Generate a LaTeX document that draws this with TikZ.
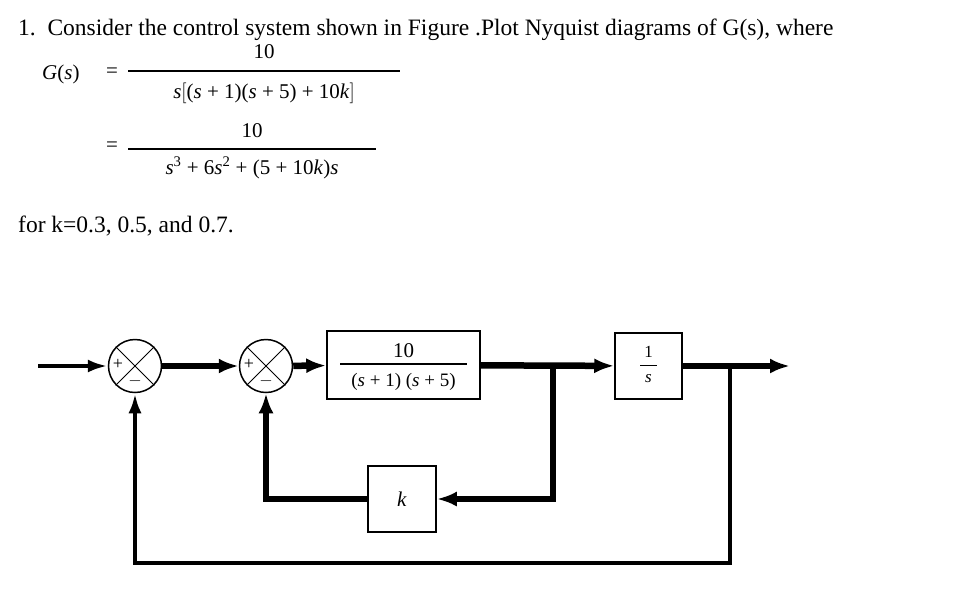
\documentclass[tikz,border=0pt]{standalone}
\usepackage{fontspec}
\setmainfont{Liberation Serif}
\usetikzlibrary{arrows.meta}
\newcommand{\vi}[1]{\textit{#1}}
\begin{document}
\begin{tikzpicture}[x=1pt,y=-1pt,
  txt/.style={inner sep=0pt,anchor=base west,font=\fontsize{23.5}{26}\selectfont},
  mth/.style={inner sep=0pt,font=\fontsize{21}{24}\selectfont},
  sumj/.style={circle,draw,line width=1.5pt,minimum size=53pt,inner sep=0pt},
  blk/.style={draw,line width=1.5pt,inner sep=0pt},
  sig/.style={line width=6.5pt,-{Latex[length=20pt,width=15pt]}},
  thin sig/.style={line width=4pt,-{Latex[length=20pt,width=13pt]}},
  wire/.style={line width=6.5pt}]
\useasboundingbox (0,0) rectangle (968,606);
\node[txt] (t1) at (18,35) {1.\ \ Consider the control system shown in Figure .Plot Nyquist diagrams of G(s), where};
\node[mth,anchor=base west] (gs) at (42,79) {\vi{G}(\vi{s})};
\node[mth] (eq1) at (112,73) {=};
\node[mth] (n1) at (264,52) {10};
\draw[line width=1.2pt] (128,71) -- (400,71);
\node[mth] (d1) at (264,93) {\vi{s}$\bigl[$(\vi{s} + 1)(\vi{s} + 5) + 10\vi{k}$\bigr]$};
\node[mth] (eq2) at (112,147) {=};
\node[mth] (n2) at (252,131) {10};
\draw[line width=1.2pt] (128,149) -- (376,149);
\node[mth] (d2) at (252,168) {\vi{s}\textsuperscript{3} + 6\vi{s}\textsuperscript{2} + (5 + 10\vi{k})\vi{s}};
\node[txt] (t2) at (18,232) {for k=0.3, 0.5, and 0.7.};

\node[sumj] (s1) at (135,366) {};
\node[sumj] (s2) at (266,366) {};
\foreach \s in {s1,s2}{
  \draw[line width=1pt] (\s.45) -- (\s.225) (\s.135) -- (\s.315);
  \node[font=\fontsize{18}{18}\selectfont,inner sep=0pt] at ([xshift=-17pt,yshift=2pt]\s.center) {+};
  \node[font=\fontsize{18}{18}\selectfont,inner sep=0pt] at ([yshift=-15pt]\s.center) {$-$};
}
\node[blk,minimum width=153pt,minimum height=68pt] (g1) at (403.5,365) {};
\node[mth] at (403.5,351) {10};
\draw[line width=1.2pt] (340,364) -- (467,364);
\node[mth,font=\fontsize{19}{22}\selectfont] at (403.5,382) {(\vi{s} + 1) (\vi{s} + 5)};
\node[blk,minimum width=67pt,minimum height=66pt] (g2) at (648.5,366) {};
\node[mth,font=\fontsize{17}{18}\selectfont] at (648.5,352) {1};
\draw[line width=1pt] (640,365) -- (657,365);
\node[mth,font=\fontsize{17}{18}\selectfont] at (648.5,379) {\vi{s}};
\node[blk,minimum width=68pt,minimum height=66pt] (kb) at (402,499) {\fontsize{21}{24}\selectfont\vi{k}};

\coordinate (in) at (38,366);
\coordinate (out) at (790,366);
\coordinate (b1) at (553,366);
\coordinate (b2) at (730,366);
\draw[thin sig] (in) -- (s1);
\draw[sig] (s1) -- (s2);
\draw[sig] (s2) -- (g1);
\draw[sig] (g1) -- (g2);
\draw[sig] (g2) -- (out);
\draw[sig] (b1) |- (kb);
\draw[sig] (kb.west) -| (s2);
\draw[line width=4.5pt,-{Latex[length=20pt,width=13pt]}] (b2) |- (135,563) -- (s1);
\end{tikzpicture}
\end{document}
